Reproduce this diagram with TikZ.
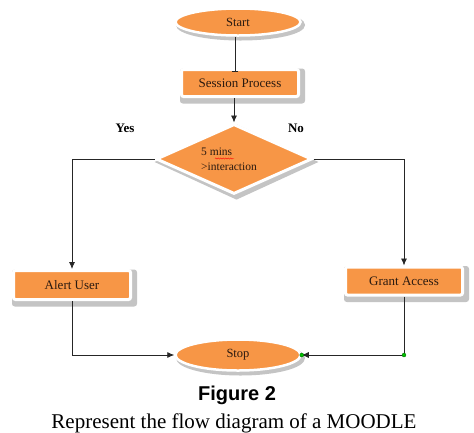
\documentclass[tikz,border=0pt]{standalone}
\usepackage{fontspec}
\setmainfont{Liberation Serif}
\newfontfamily\capfont{Liberation Sans}
\usetikzlibrary{shapes.geometric,arrows.meta,decorations.pathmorphing,backgrounds}
\definecolor{boxorange}{HTML}{F79646}
\definecolor{txtdark}{HTML}{2A1A10}
\definecolor{shadowgray}{HTML}{C4C4C4}
\tikzset{
  termbox/.style={ellipse,fill=boxorange,draw=white,line width=2.5pt,inner sep=0pt,
    text=txtdark,font=\fontsize{12.5}{14}\selectfont},
  procbox/.style={rectangle,rounded corners=2pt,fill=boxorange,draw=white,line width=3pt,
    inner sep=0pt,text=txtdark,font=\fontsize{13}{15}\selectfont},
  decbox/.style={diamond,fill=boxorange,draw=white,line width=3pt,inner sep=0pt},
  shadowfill/.style={fill=shadowgray,draw=shadowgray,line width=2pt},
  conn/.style={draw=black!85,line width=0.8pt},
  arr/.style={conn,-{Latex[length=7pt,width=6pt]}},
  lbl/.style={font=\bfseries\fontsize{13}{15}\selectfont,text=black},
  gdot/.style={circle,fill=green!75!black,draw=green!40!black,line width=0.3pt,inner sep=0pt,minimum size=4pt}
}
\begin{document}
\begin{tikzpicture}[x=1pt,y=-1pt]
\useasboundingbox (0,0) rectangle (474,432);
% nodes
\node[termbox,minimum width=125pt,minimum height=27pt] (start) at (238,22) {Start};
\node[procbox,minimum width=117pt,minimum height=27pt] (sess) at (240,83) {Session Process};
\node[decbox,minimum width=156pt,minimum height=70pt] (dec) at (234,159) {};
\node[align=left,anchor=west,text=txtdark,font=\fontsize{11.5}{15}\selectfont,inner sep=0pt] (dectext) at (201,159) {5 mins\\>interaction};
\node[procbox,minimum width=117pt,minimum height=29pt] (alert) at (72,285) {Alert User};
\node[procbox,minimum width=117pt,minimum height=28pt] (grant) at (404,281) {Grant Access};
\node[termbox,minimum width=125pt,minimum height=31pt] (stop) at (238,355) {Stop};
\node[lbl] (yes) at (125,128) {Yes};
\node[lbl] (no) at (296,128) {No};
% shadows
\begin{scope}[on background layer]
\fill[white] (0,0) rectangle (474,432);
\filldraw[shadowfill] ([shift={(2.5,3)}]start.center) ellipse [x radius=63.5, y radius=14.5];
\filldraw[shadowfill] ([shift={(2.5,3)}]stop.center) ellipse [x radius=63.5, y radius=16.5];
\filldraw[shadowfill,rounded corners=2pt] ([shift={(1,4.5)}]sess.south west) rectangle ([shift={(4,1.5)}]sess.north east);
\filldraw[shadowfill,rounded corners=2pt] ([shift={(1,4.5)}]alert.south west) rectangle ([shift={(4,1.5)}]alert.north east);
\filldraw[shadowfill,rounded corners=2pt] ([shift={(1,4.5)}]grant.south west) rectangle ([shift={(4,1.5)}]grant.north east);
\filldraw[shadowfill] ([shift={(2.5,3)}]dec.north) -- ([shift={(2.5,3)}]dec.east) -- ([shift={(2.5,3)}]dec.south) -- ([shift={(2.5,3)}]dec.west) -- cycle;
\end{scope}
% red spelling squiggle
\draw[red,line width=0.4pt,decorate,decoration={snake,amplitude=0.6pt,segment length=2.5pt}] (215,158.5) -- (234,158.5);
% connectors
\draw[conn,-{Bar[width=6pt]}] ([xshift=-3pt]start.south) -- ([xshift=-3pt,yshift=-4pt]start.south |- sess.north);
\draw[arr] (dec.north |- sess.south) -- (dec.north);
\draw[arr] (dec.west) -| (alert.north);
\draw[arr] (dec.east) -| (grant.north);
\draw[arr] (alert.south) |- (stop.west);
\coordinate (corner) at (grant.south |- stop.east);
\draw[arr] (grant.south) -- (corner) -- (stop.east);
\node[gdot] (d1) at (corner) {};
\node[gdot] (d2) at (stop.east) {};
% caption
\node[font=\capfont\bfseries\fontsize{20}{24}\selectfont] (fig) at (237,395) {Figure 2};
\node[font=\fontsize{21}{24}\selectfont,anchor=base] (cap) at (234,428) {Represent the flow diagram of a MOODLE};
\end{tikzpicture}
\end{document}
